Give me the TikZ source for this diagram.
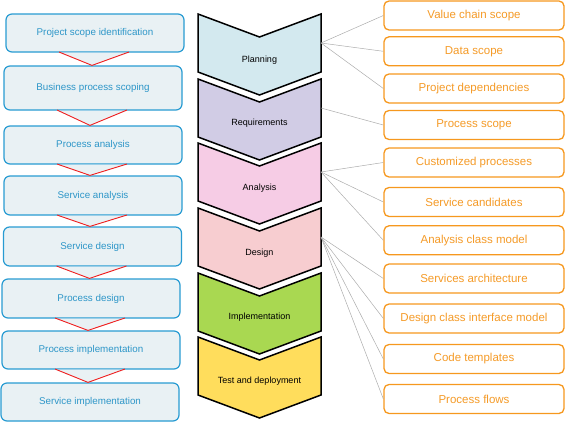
\documentclass[tikz,border=0pt]{standalone}
\usepackage{fontspec}
\setmainfont{Liberation Sans}
\usetikzlibrary{calc}
\definecolor{lbdraw}{RGB}{40,155,210}
\definecolor{lbfill}{RGB}{233,241,244}
\definecolor{lbtext}{RGB}{45,150,200}
\definecolor{ordraw}{RGB}{246,152,30}
\definecolor{ortext}{RGB}{245,155,40}
\definecolor{cplan}{RGB}{211,233,239}
\definecolor{creq}{RGB}{209,204,229}
\definecolor{cana}{RGB}{246,204,229}
\definecolor{cdes}{RGB}{247,205,208}
\definecolor{cimp}{RGB}{169,216,81}
\definecolor{ctest}{RGB}{255,221,92}
\definecolor{vred}{RGB}{240,30,30}
\tikzset{
  leftbox/.style={draw=lbdraw, fill=lbfill, line width=1.2pt, rounded corners=6pt,
    minimum width=178pt, inner sep=0pt, text=lbtext, font=\fontsize{9.8}{11}\selectfont},
  rightbox/.style={draw=ordraw, fill=white, line width=1.3pt, rounded corners=5pt,
    minimum width=180pt, minimum height=29pt, inner sep=0pt, text=ortext, font=\fontsize{11.5}{13}\selectfont},
  chev/.style={draw=black, line width=1.5pt, line join=miter},
  chevtext/.style={font=\fontsize{9}{10}\selectfont, text=black},
  link/.style={draw=gray!65, line width=0.5pt},
  vline/.style={draw=vred, line width=0.9pt},
}
\newcommand{\chevron}[3]{%
  \path[chev, fill=#2] (198,#1) -- (259.5,#1+23) -- (321,#1) -- (321,#1+58)
     -- (259.5,#1+81) -- (198,#1+58) -- cycle;
  \coordinate (#3) at (321,#1+29);
}
\begin{document}
\begin{tikzpicture}[x=1pt,y=-1pt]
\useasboundingbox (0,0) rectangle (568,423);

% chevrons
\chevron{14}{cplan}{cP}
\chevron{79}{creq}{cR}
\chevron{143}{cana}{cA}
\chevron{208}{cdes}{cD}
\chevron{273}{cimp}{cI}
\chevron{337}{ctest}{cT}
\node[chevtext] (tP) at (259.5,60) {Planning};
\node[chevtext] (tR) at (259.5,123) {Requirements};
\node[chevtext] (tA) at (259.5,188) {Analysis};
\node[chevtext] (tD) at (259.5,253) {Design};
\node[chevtext] (tI) at (259.5,317) {Implementation};
\node[chevtext] (tT) at (259.5,381) {Test and deployment};

% left boxes
\node[leftbox, minimum height=38pt] (l1) at (95,33) {Project scope identification};
\node[leftbox, minimum height=44pt] (l2) at (93,88) {Business process scoping};
\node[leftbox, minimum height=38pt] (l3) at (93,145) {Process analysis};
\node[leftbox, minimum height=39pt] (l4) at (93,195.5) {Service analysis};
\node[leftbox, minimum height=39pt] (l5) at (92.5,246.5) {Service design};
\node[leftbox, minimum height=39pt] (l6) at (91,298.5) {Process design};
\node[leftbox, minimum height=38pt] (l7) at (91,350) {Process implementation};
\node[leftbox, minimum height=38pt] (l8) at (90,402) {Service implementation};

% V connectors
\foreach \a/\b in {l1/l2,l2/l3,l3/l4,l4/l5,l5/l6,l6/l7,l7/l8}{
  \fill[lbfill] ($(\a.south)+(-36,0)$) -- ($(\a.south |- \b.north)+(-3,0)$) -- ($(\a.south)+(34,0)$) -- cycle;
  \draw[vline] ($(\a.south)+(-36,-0.6)$) -- ($(\a.south |- \b.north)+(-3,0)$) -- ($(\a.south)+(34,-0.6)$);
}

% right boxes
\node[rightbox] (r1) at (474,15.5) {Value chain scope};
\node[rightbox] (r2) at (474,51.3) {Data scope};
\node[rightbox] (r3) at (474,88.5) {Project dependencies};
\node[rightbox] (r4) at (474,125) {Process scope};
\node[rightbox] (r5) at (474,162.5) {Customized processes};
\node[rightbox] (r6) at (474,202) {Service candidates};
\node[rightbox] (r7) at (474,240.3) {Analysis class model};
\node[rightbox] (r8) at (474,278.5) {Services architecture};
\node[rightbox] (r9) at (474,318.5) {Design class interface model};
\node[rightbox] (r10) at (474,359) {Code templates};
\node[rightbox] (r11) at (474,399) {Process flows};

% links
\foreach \r in {r1,r2,r3}{\draw[link] (cP) -- (\r.west);}
\draw[link] (cR) -- (r4.west);
\foreach \r in {r5,r6,r7}{\draw[link] (cA) -- (\r.west);}
\foreach \r in {r8,r9,r10,r11}{\draw[link] (cD) -- (\r.west);}
\end{tikzpicture}
\end{document}
